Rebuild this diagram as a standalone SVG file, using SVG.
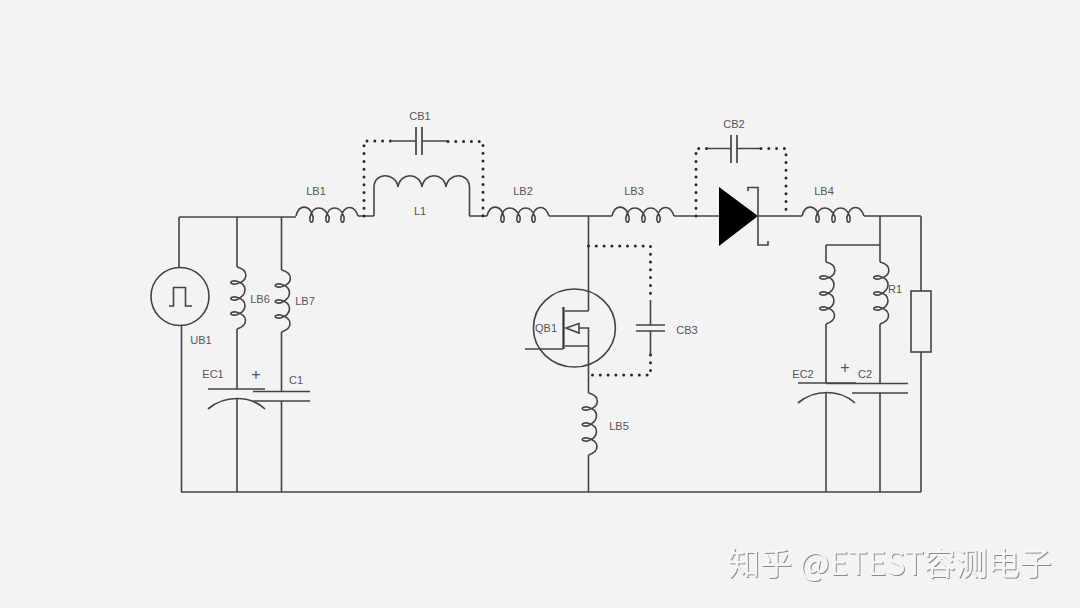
<svg xmlns="http://www.w3.org/2000/svg" xmlns:xlink="http://www.w3.org/1999/xlink" width="1080" height="608" viewBox="0 0 1080 608">
<style>
.w{fill:none;stroke:#444;stroke-width:1.6}
.p{fill:none;stroke:#444;stroke-width:1.7}
.d{fill:none;stroke:#2a2a2a;stroke-width:3;stroke-linecap:round;stroke-dasharray:0 7.8}
text{font-family:"Liberation Sans",Arial,sans-serif;font-size:11px;fill:#555;text-anchor:middle}
.wm{font-family:"Noto Sans CJK SC","Liberation Sans",sans-serif;font-size:32px;fill:#f6f6f6;text-anchor:start;filter:url(#sh)}
</style>
<defs>
<filter id="sh" x="-5%" y="-20%" width="110%" height="140%"><feDropShadow dx="1" dy="1" stdDeviation="0.6" flood-color="#8a8a8a"/></filter>
<path id="coil" class="w" d="M0,0C3,-12 14,-12 17,1C18,8 13,8 14,1C17,-11 28,-11 33,1C34,8 29,8 30,1C33,-11 44,-11 48,1C49,8 44,8 45,1C48,-11 58,-12 62,0"/>
</defs>
<rect width="1080" height="608" fill="#f3f3f3"/>
<g id="connectors">
<path class="w" d="M179,217H296M179,217V268M181.500,325V492M181,492H921"/>
<path class="w" d="M237,217V267M237,329V389M237,398V492"/>
<path class="w" d="M281.500,217V270M281.500,332V391M281.500,401V492"/>
<path class="w" d="M358,216H374M469,216H487M549,216H612M674,216H720M758,216H802M864,216H921"/>
<path class="w" d="M588.500,216V311M588.500,376V393M588.500,455V492"/>
<path class="w" d="M921,216V291M921,352V492M880,216V262M880,324V383M880,393V492M826,245H880M826,245V262M826,324V383M826,392V492"/>
<path class="w" d="M392,141H416M422,141H448M707,148.500H731M737,148.500H761M650.500,300V325M650.500,331V355"/>
<path class="d" d="M364,216V141H392M448,141.500H483V216"/>
<path class="d" d="M696,216V148.500H707M761,148.500H786V216"/>
<path class="d" d="M588.500,246H650.500V300M650.500,355V375H588.500"/>
</g>
<g id="UB1"><circle class="w" cx="180" cy="296.500" r="29"/><path class="w" d="M169,306H173.500V287.500H185.500V306H192"/><text x="201" y="344">UB1</text></g>
<g id="LB1"><use href="#coil" transform="translate(296,216)"/><text x="316" y="195">LB1</text></g>
<g id="L1"><path class="w" d="M374,216V187C374,172 396,172 398,187C400,172 420,172 422,187C424,172 444,172 446,187C448,172 469,172 469.500,187V216"/><text x="420" y="215">L1</text></g>
<g id="CB1"><path class="p" d="M416,127V155M422,127V155"/><text x="420" y="120">CB1</text></g>
<g id="LB2"><use href="#coil" transform="translate(487,216)"/><text x="523" y="195">LB2</text></g>
<g id="LB3"><use href="#coil" transform="translate(612,216)"/><text x="634" y="195">LB3</text></g>
<g id="LB4"><use href="#coil" transform="translate(802,216)"/><text x="824" y="195">LB4</text></g>
<g id="LB5"><use href="#coil" transform="translate(588.500,393) rotate(90)"/><text x="619" y="430">LB5</text></g>
<g id="LB6"><use href="#coil" transform="translate(237,267) rotate(90)"/><text x="260" y="303">LB6</text></g>
<g id="LB7"><use href="#coil" transform="translate(281.500,270) rotate(90)"/><text x="305" y="305">LB7</text></g>
<g id="L8"><use href="#coil" transform="translate(826,262) rotate(90)"/></g>
<g id="R1"><use href="#coil" transform="translate(880,262) rotate(90)"/><text x="895" y="293">R1</text></g>
<g id="CB2"><path class="p" d="M731,135V163M737,135V163"/><text x="734" y="128">CB2</text></g>
<g id="CB3"><path class="p" d="M636,325H665M636,331H665"/><text x="687" y="334">CB3</text></g>
<g id="D1"><path d="M719,187V246L758,216Z" fill="#000"/><path class="w" d="M748,191V187.500H758V245H768V241"/></g>
<g id="QB1"><ellipse class="w" cx="574.400" cy="328" rx="41" ry="39"/><path class="w" d="M588.500,311H565M525,349H563M565,346H588.500M579,328H588.500V376"/><path d="M563.500,307V349" fill="none" stroke="#333" stroke-width="2.2"/><path class="w" d="M566,328L579,323.500V333Z"/><text x="546" y="332">QB1</text></g>
<g id="EC1"><path class="p" d="M208,389H265"/><path class="p" d="M208,409C224,395 250,395 265,409"/><text x="213" y="378">EC1</text><text x="256" y="380" style="font-size:16px">+</text></g>
<g id="C1"><path class="p" d="M253,391.500H310M253,401H310"/><text x="296" y="384">C1</text></g>
<g id="EC2"><path class="p" d="M798,383H856"/><path class="p" d="M798,403C814,389 840,389 855,403"/><text x="803" y="378">EC2</text><text x="845" y="373" style="font-size:16px">+</text></g>
<g id="C2"><path class="p" d="M826,383.500H908M852,393H908"/><text x="865" y="378">C2</text></g>
<g id="RL"><rect class="w" x="911" y="291" width="20" height="61"/></g>
<text class="wm" x="728" y="575">知乎 @ETEST容测电子</text>
</svg>
